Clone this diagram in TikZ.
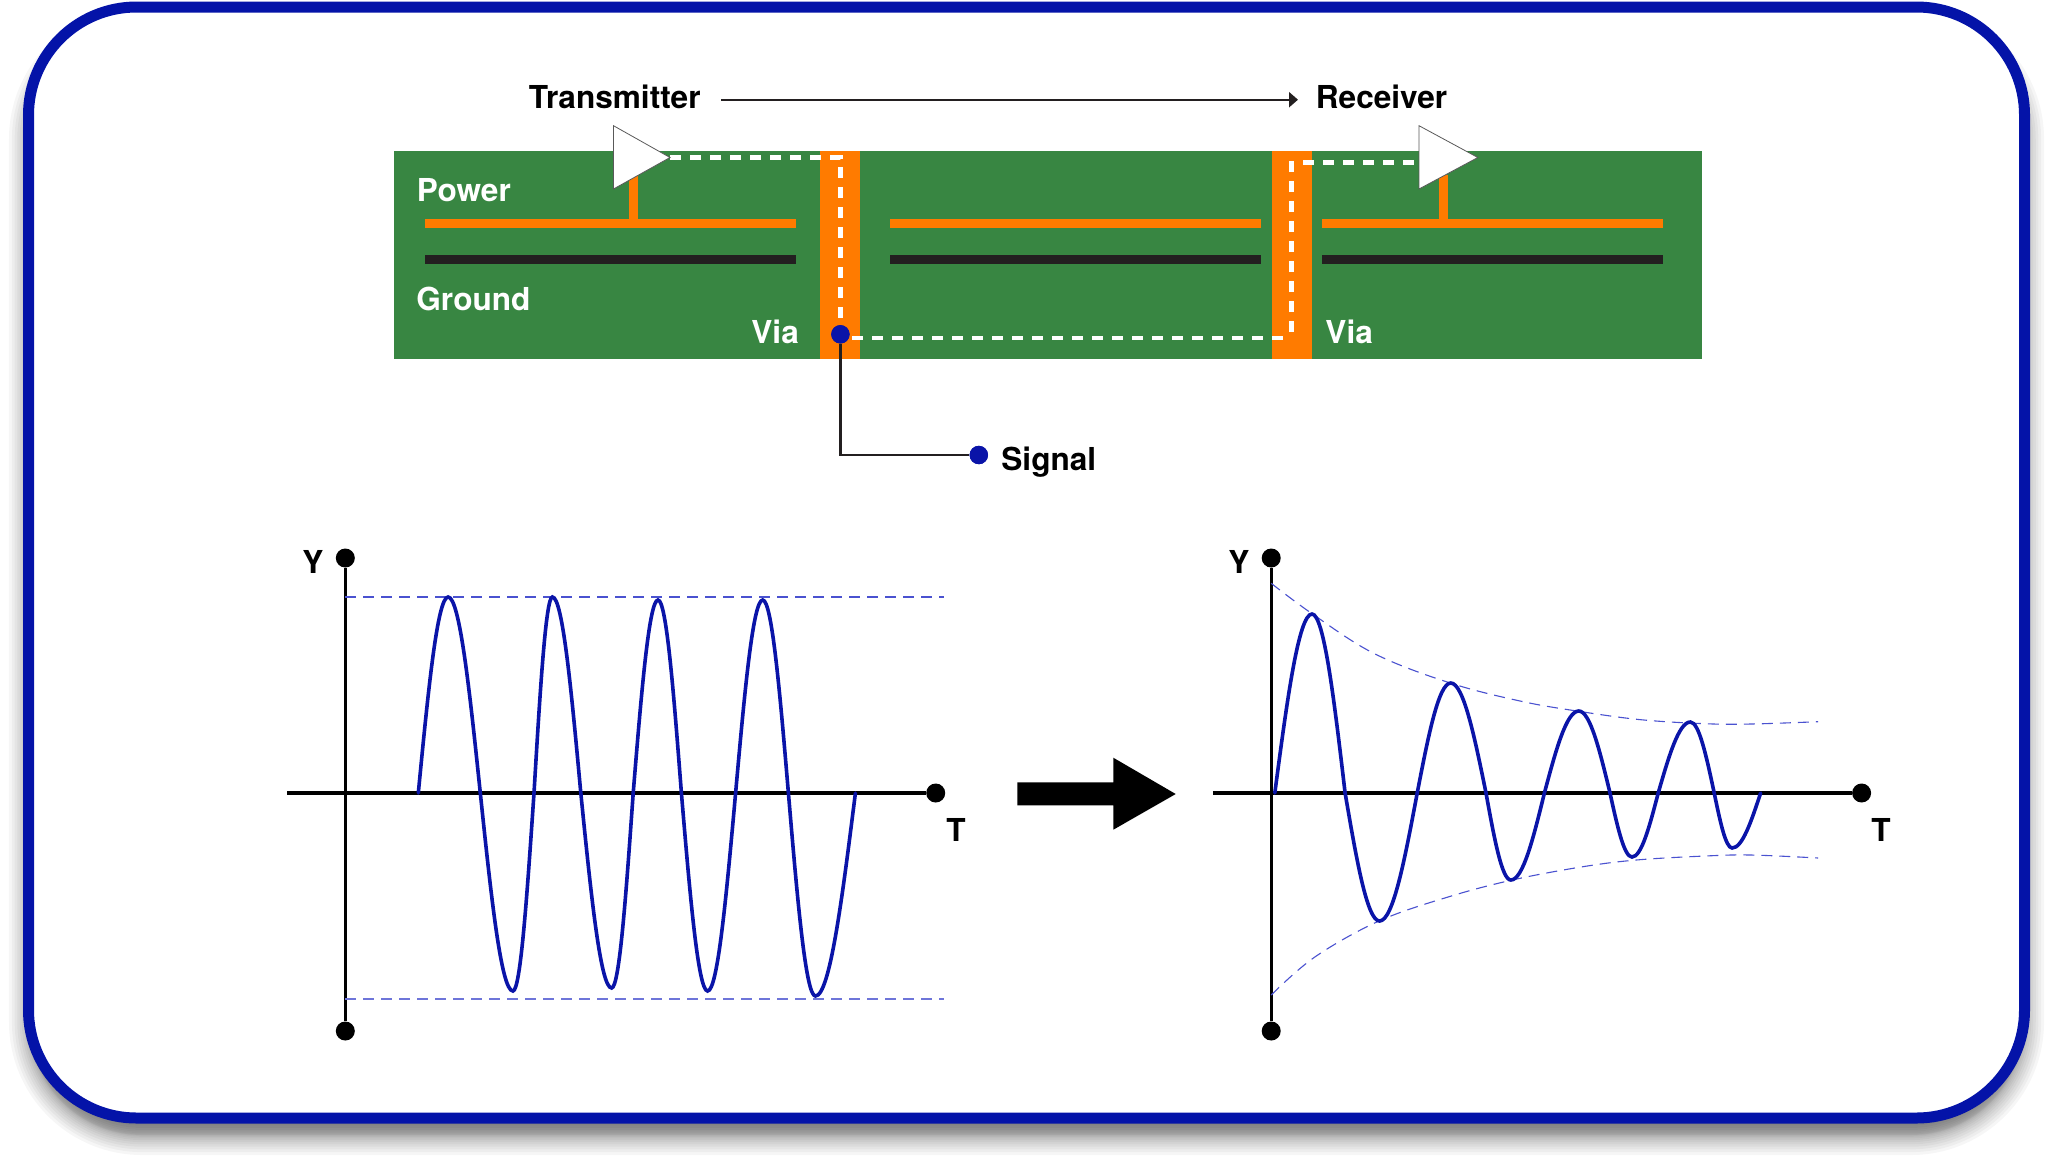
\documentclass[tikz,border=0pt]{standalone}
\usepackage{fontspec}
\setmainfont{TeX Gyre Heros}
\usetikzlibrary{arrows.meta}
\definecolor{framec}{HTML}{0413A8}
\definecolor{boardc}{HTML}{388642}
\definecolor{orangec}{HTML}{FF7B00}
\definecolor{darkc}{HTML}{231F20}
\definecolor{wavec}{HTML}{0A14A8}
\definecolor{envc}{HTML}{4A52D0}
\tikzset{
  lbl/.style={font=\fontsize{15.8pt}{18pt}\selectfont\bfseries,inner sep=0pt,anchor=base west},
  lblb/.style={lbl,text=black},
  lblw/.style={lbl,text=white},
  plane/.style={line width=4.5pt,line cap=butt},
  whitedash/.style={draw=white,line width=2.3pt,dash pattern=on 5.5pt off 4.5pt},
  amp/.style={fill=white,draw=black!65,line width=0.4pt,line join=miter},
  bluedot/.style={circle,fill=wavec,inner sep=0pt,minimum size=9.2pt},
  blackdot/.style={circle,fill=black,inner sep=0pt,minimum size=9.5pt},
  axisline/.style={draw=black,line width=1.7pt},
  wave/.style={draw=wavec,line width=1.8pt,line cap=round},
  envline/.style={draw=envc,line width=0.55pt,dash pattern=on 5.5pt off 3.5pt},
}
\begin{document}
\begin{tikzpicture}[x=0.5pt,y=-0.5pt]
\useasboundingbox (0,0) rectangle (2048,1163);
\fill[white] (0,0) rectangle (2048,1163);
% shadow
\foreach \t in {-1,-0.9,...,1.01}{
  \pgfmathsetmacro{\e}{20*\t*abs(\t)^0.5}
  \pgfmathsetmacro{\r}{max(10,(113+\e)*0.5)}
  \fill[black,opacity=0.035,rounded corners=\r pt] ({29-\e},{26-\e}) rectangle ({2024+\e},{1135+\e});
}
% frame
\draw[framec,fill=white,line width=5.5pt,rounded corners=54pt] (28.5,7) rectangle (2024.5,1118);
% board
\fill[boardc] (393.5,151) rectangle (1702,359);
% vias
\fill[orangec] (820.4,151) rectangle (860.4,359);
\fill[orangec] (1271.6,151) rectangle (1311.6,359);
% planes
\draw[plane,orangec] (425,223) -- (796,223);
\draw[plane,orangec] (890,223) -- (1261,223);
\draw[plane,orangec] (1322,223) -- (1663,223);
\draw[plane,darkc] (425,259.7) -- (796,259.7);
\draw[plane,darkc] (890,259.7) -- (1261,259.7);
\draw[plane,darkc] (1322,259.7) -- (1663,259.7);
\draw[orangec,line width=4.5pt] (633,175) -- (633,223);
\draw[orangec,line width=4.5pt] (1443,175) -- (1443,223);
% named points
\coordinate (txtip) at (670,157.5);
\coordinate (viaA) at (840.4,157.5);
\coordinate (viaB) at (1291.6,332);
\coordinate (viaBtop) at (1291.6,160);
\coordinate (rowstart) at (852,338);
\coordinate (rowend) at (1287,338);
\coordinate (rxstart) at (1303,162.3);
\coordinate (rxin) at (1419,162.3);
% signal route
\draw[whitedash] (txtip) -- (viaA) -- (840.4,328);
\draw[whitedash] (rowstart) -- (rowend);
\draw[whitedash] (viaB) -- (viaBtop);
\draw[whitedash] (rxstart) -- (rxin);
% amplifiers
\draw[amp] (613.5,125.7) -- (670,157.5) -- (613.5,189) -- cycle;
\draw[amp] (1419,125.7) -- (1477.8,157.5) -- (1419,189) -- cycle;
% top labels and arrow
\node[lblb] (tx) at (528.5,108) {Transmitter};
\node[lblb] (rx) at (1315.5,108) {Receiver};
\coordinate (arrL) at (721,99.7);
\coordinate (arrR) at (1298,99.7);
\draw[draw=darkc,line width=1.2pt,-{Triangle[length=4.5pt,width=7.5pt]}] (arrL) -- (arrR);
% board labels
\node[lblw] (power) at (416.5,201.7) {Power};
\node[lblw] (ground) at (416,310) {Ground};
\node[lblw] (via1) at (751,343) {Via};
\node[lblw] (via2) at (1325,343) {Via};
% signal
\node[bluedot] (sigvia) at (840.4,334.3) {};
\node[bluedot] (sigend) at (978.8,455) {};
\draw[draw=darkc,line width=1.2pt] (sigvia) |- (sigend);
\node[bluedot] at (sigvia) {};
\node[bluedot] at (sigend) {};
\node[lblb] (siglbl) at (1001,470) {Signal};
% left plot
\node[blackdot] (ltop) at (345.3,558) {};
\node[blackdot] (lbot) at (345.3,1031) {};
\node[blackdot] (lright) at (935.7,793) {};
\coordinate (lleft) at (287.4,793);
\draw[axisline] (ltop) -- (lbot);
\draw[axisline] (lleft) -- (lright);
\node[lblb] (ly) at (302,573) {Y};
\node[lblb] (lt) at (946,841) {T};
\draw[envline] (345.3,597) -- (944,597);
\draw[envline,draw=envc!80] (345.3,999) -- (944,999);
\foreach \a/\p/\b/\A in {
  418.3/448.1/480.3/597, 480.3/512.9/534/991, 534/552.4/580.8/597, 580.8/611.6/633.2/988,
  633.2/658/681.4/600, 681.4/707.6/735.6/991, 735.6/762.7/788.4/600, 788.4/815.4/855.4/996}{
  \draw[wave] (\a,793) .. controls ({\a+.3261*(\p-\a)},{793+.5123*(\A-793)}) and ({\a+.6381*(\p-\a)},\A) .. (\p,\A)
     .. controls ({\p+.3619*(\b-\p)},\A) and ({\p+.6739*(\b-\p)},{793+.5123*(\A-793)}) .. (\b,793);
}
% big arrow
\fill[black] (1017.3,782.3) -- (1113.3,782.3) -- (1113.3,757.7) -- (1175.7,794) -- (1113.3,829.7) -- (1113.3,805.3) -- (1017.3,805.3) -- cycle;
% right plot
\node[blackdot] (rtop) at (1271.2,558) {};
\node[blackdot] (rbot) at (1271.2,1031) {};
\node[blackdot] (rright) at (1861.6,793) {};
\coordinate (rleft) at (1212.9,793);
\draw[axisline] (rtop) -- (rbot);
\draw[axisline] (rleft) -- (rright);
\node[lblb] (ry) at (1228,573) {Y};
\node[lblb] (rt) at (1871,841) {T};
\draw[envline] plot[smooth,tension=0.6] coordinates {(1271.2,583.3) (1312.5,614) (1374.5,653.7) (1450.2,683) (1521.4,701.3) (1578.8,711.3) (1640.8,719.7) (1705,723.7) (1751,724) (1818,721.7)};
\draw[envline] plot[smooth,tension=0.6] coordinates {(1271.2,995) (1314.8,957) (1379,921) (1448,897) (1512.2,880) (1581,867) (1636.2,860) (1705,856) (1751,855) (1818,858)};
\foreach \a/\p/\b/\A in {
  1274.8/1312/1345.1/614, 1345.1/1379.5/1417.2/921, 1417.2/1450.7/1486/683, 1486/1510.8/1544.4/880,
  1544.4/1578.8/1610/711, 1610/1632/1658.2/857, 1658.2/1690.4/1714.2/722, 1714.2/1732.1/1760.6/848}{
  \draw[wave] (\a,793) .. controls ({\a+.3261*(\p-\a)},{793+.5123*(\A-793)}) and ({\a+.6381*(\p-\a)},\A) .. (\p,\A)
     .. controls ({\p+.3619*(\b-\p)},\A) and ({\p+.6739*(\b-\p)},{793+.5123*(\A-793)}) .. (\b,793);
}
\end{tikzpicture}
\end{document}
